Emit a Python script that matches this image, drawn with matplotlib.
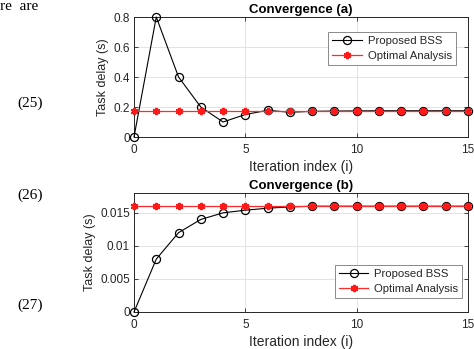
import numpy as np
import matplotlib.pyplot as plt

plt.rcParams['font.family'] = ['Liberation Sans', 'DejaVu Sans']

iters = np.arange(0, 16)

# convergence (a): task delay in seconds
bss_a = [0, 0.8, 0.4, 0.2, 0.1, 0.15, 0.178, 0.165, 0.171, 0.173,
         0.174, 0.175, 0.175, 0.175, 0.175, 0.175]
opt_a = [0.175] * 16

# convergence (b)
bss_b = [0, 0.008, 0.012, 0.014, 0.015, 0.0154, 0.0157, 0.0159, 0.016, 0.016,
         0.016, 0.016, 0.016, 0.016, 0.016, 0.016]
opt_b = [0.016] * 16

W, H = 474, 349
fig = plt.figure(figsize=(W / 100, H / 100), dpi=100)

gray = '#262626'
star = (6, 2, 0)  # line asterisk


def panel(rect, bss, opt, title, ylim, yticks, yticklabels, loc, legend_anchor):
    ax = fig.add_axes(rect)
    ax.plot(iters, bss, color='black', lw=0.8, marker='o', ms=5.8,
            mfc='none', mec='black', mew=0.9, label='Proposed BSS',
            zorder=3, clip_on=False)
    ax.plot(iters, opt, color='#ff2a2a', lw=0.9, marker=star, ms=5.2,
            mec='#ff1a1a', mew=1.6, label='Optimal Analysis',
            zorder=4, clip_on=False)
    ax.set_xlim(0, 15)
    ax.set_ylim(*ylim)
    ax.set_xticks([0, 5, 10, 15])
    ax.set_yticks(yticks)
    ax.set_yticklabels(yticklabels)
    ax.grid(True, color='#e3e3e3', lw=0.7)
    ax.set_axisbelow(True)
    ax.tick_params(direction='in', length=3, width=0.6, colors=gray,
                   labelsize=8.5, pad=3, top=True, right=True,
                   labeltop=False, labelright=False)
    ax.tick_params(axis='x', pad=5)
    for s in ax.spines.values():
        s.set_color(gray)
        s.set_linewidth(0.7)
    ax.set_title(title, fontsize=9.5, fontweight='bold', pad=3)
    ax.set_xlabel('Iteration index (i)', fontsize=10, color=gray, labelpad=3)
    ax.set_ylabel('Task delay (s)', fontsize=9, color=gray, labelpad=3)
    leg = ax.legend(loc=loc, bbox_to_anchor=legend_anchor, fontsize=8.2,
                    fancybox=False, framealpha=1, edgecolor='#777777',
                    borderpad=0.35, labelspacing=0.4, handlelength=2.6,
                    handletextpad=0.5)
    leg.get_frame().set_linewidth(0.6)
    for t in leg.get_texts():
        t.set_color(gray)
    return ax


panel([134 / W, (H - 137) / H, 334 / W, 120 / H], bss_a, opt_a,
      'Convergence (a)', (0, 0.8), [0, 0.2, 0.4, 0.6, 0.8],
      ['0', '0.2', '0.4', '0.6', '0.8'], 'upper right', (0.98, 0.92))

panel([134 / W, (H - 312) / H, 334 / W, 119 / H], bss_b, opt_b,
      'Convergence (b)', (0, 0.018), [0, 0.005, 0.01, 0.015],
      ['0', '0.005', '0.01', '0.015'], 'lower right', (1.0, 0.07))

# surrounding paper text
serif = ['Liberation Serif', 'DejaVu Serif']
fig.text(0 / W, 1 - 0 / H, 're  are', family=serif, fontsize=11, va='top')
for label, y in [('(25)', 103), ('(26)', 195), ('(27)', 305)]:
    fig.text(30 / W, 1 - y / H, label, family=serif, fontsize=11,
             ha='center', va='center')

fig.savefig('out.png', dpi=100)
